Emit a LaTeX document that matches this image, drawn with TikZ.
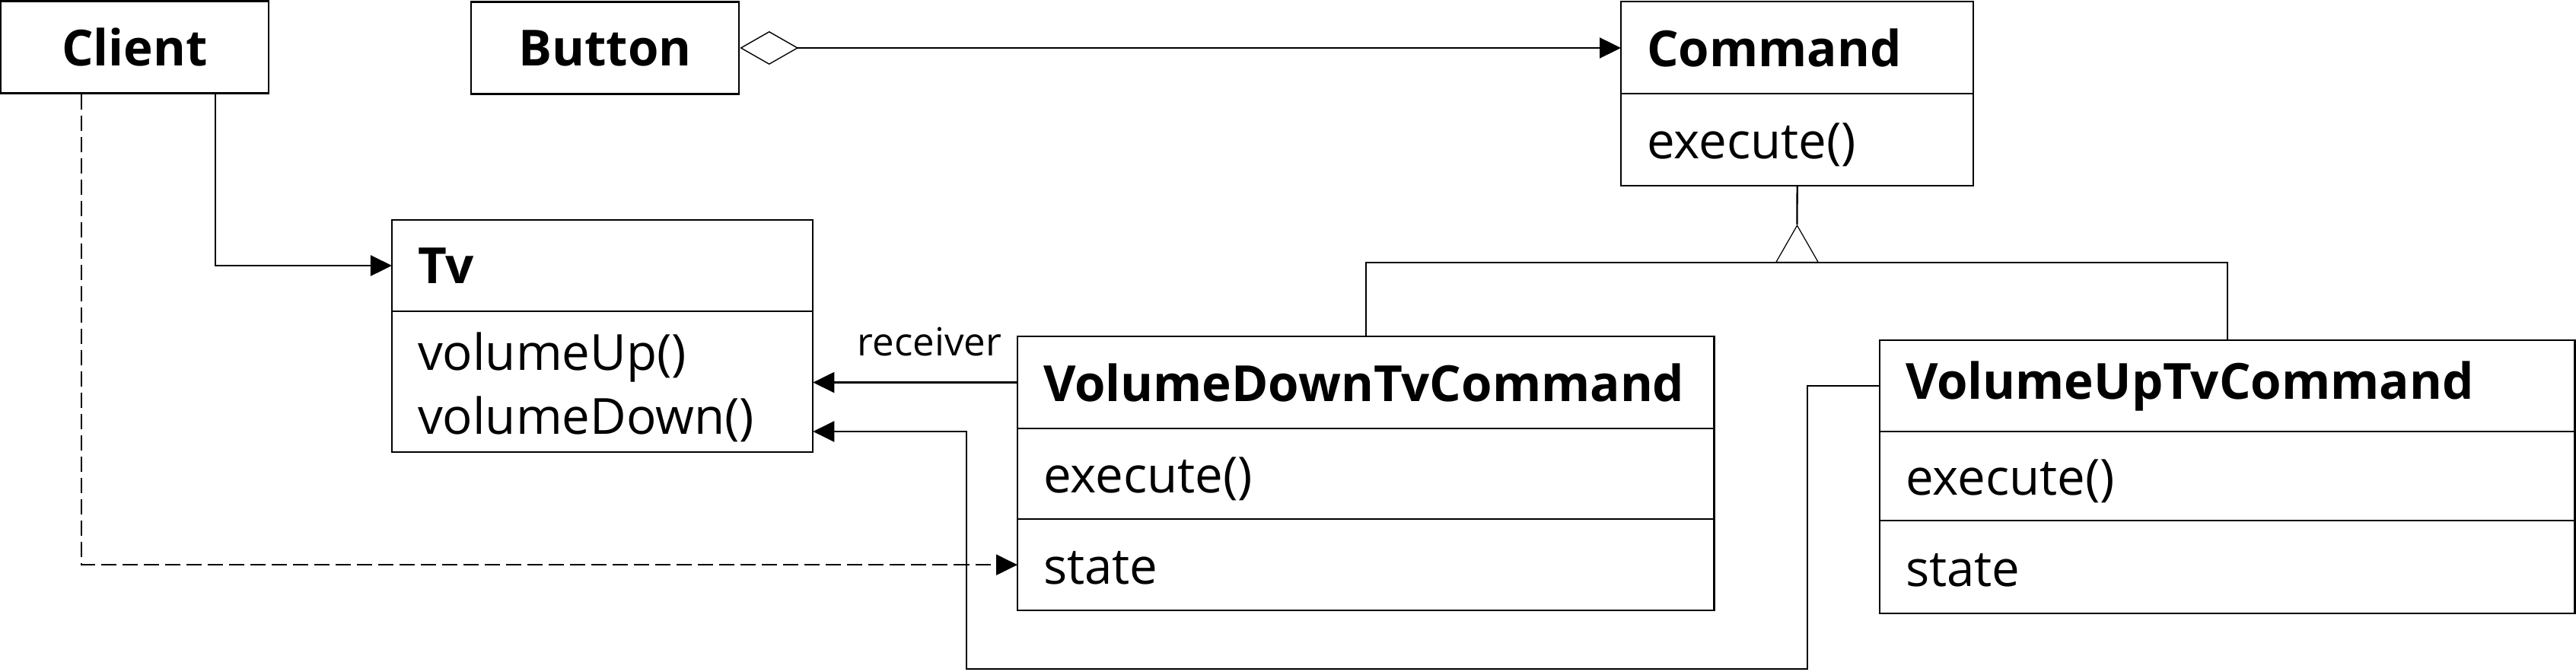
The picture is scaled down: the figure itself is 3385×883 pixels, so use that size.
\documentclass[tikz,border=0pt]{standalone}
\usepackage{fontspec}
\setmainfont{Open Sans}
\usetikzlibrary{positioning,arrows.meta}
\newcommand\umlsize{\fontsize{18.6}{24}\selectfont}
\begin{document}
\begin{tikzpicture}[x=0.01cm,y=-0.01cm,line width=0.65pt,
        plain/.style={rectangle,draw,minimum width=3.52cm,minimum height=1.21cm,
          font=\umlsize\bfseries},
        head/.style={rectangle,draw,inner xsep=0.34cm,inner ysep=0pt,outer sep=0pt,
          minimum height=1.21cm,align=left,font=\umlsize\bfseries},
        part/.style={head,minimum height=1.2cm,font=\umlsize,
          text height=0.66cm,text depth=0.16cm},
        lbl/.style={inner sep=0pt,font=\fontsize{14.5}{16}\selectfont},
        assoc/.style={-{Triangle[length=0.28cm,width=0.27cm]}},
        dep/.style={assoc,dash pattern=on 0.2cm off 0.08cm},
        agg/.style={{Diamond[open,length=0.77cm,width=0.44cm,line width=0.4pt]}-{Triangle[length=0.28cm,width=0.27cm]}},
        gen/.style={-{Triangle[open,length=0.5cm,width=0.57cm,line width=0.35pt]}}]
      \useasboundingbox (0,0) rectangle (3385,883);
      \node (client) at (177,62) [plain] {Client};
      \node (button) at (795,63) [plain] {Button};
      % classes
      \node (cmd) at (2130,2) [head,anchor=north west,text width=3.95cm] {Command};
      \node (cmdops) [part,below=0pt of cmd,text width=3.95cm,minimum height=1.21cm] {execute()};
      \node (tv) at (515,289) [head,anchor=north west,text width=4.85cm,minimum height=1.2cm] {Tv};
      \node (tvops) [part,below=0pt of tv,text width=4.85cm,minimum height=1.85cm,
        text height=0.7cm,text depth=1.01cm] {volumeUp()\\volumeDown()};
      \node (vdc) at (1337,442) [head,anchor=north west,text width=8.47cm] {VolumeDownTvCommand};
      \node (vdcops) [part,below=0pt of vdc,text width=8.47cm,minimum height=1.19cm] {execute()};
      \node (vdcstate) [part,below=0pt of vdcops,text width=8.47cm] {state};
      \node (vuc) at (2470,447) [head,anchor=north west,text width=8.45cm,minimum height=1.2cm] {VolumeUpTvCommand};
      \node (vucops) [part,below=0pt of vuc,text width=8.45cm,minimum height=1.17cm] {execute()};
      \node (vucstate) [part,below=0pt of vucops,text width=8.45cm,minimum height=1.22cm] {state};
      \coordinate (join) at (2361.5,345);
      \coordinate (apex) at (2361.5,295);
      \coordinate (loopR) at (2375,879);
      \coordinate (loopL) at (1270,567);
      % connectors
      \draw[agg] (button.east) -- (button.east -| cmd.west);
      \draw[assoc] ([xshift=1.06cm]client.south) |- (tv.west);
      \draw[dep] ([xshift=-0.7cm]client.south) |- (vdcstate.west);
      \draw[assoc] (vdc.west) -- (vdc.west -| tv.east)
        node[lbl,pos=0.43,above=0.33cm] {receiver};
      \draw[assoc] (vuc.west) -| (loopR) -| (loopL) -- (loopL -| tv.east);
      \draw (vdc.north) |- (join) -| (vuc.north);
      \draw[gen] (join) -- (apex);
      \draw (apex) -- (cmdops.south);
\end{tikzpicture}
\end{document}
